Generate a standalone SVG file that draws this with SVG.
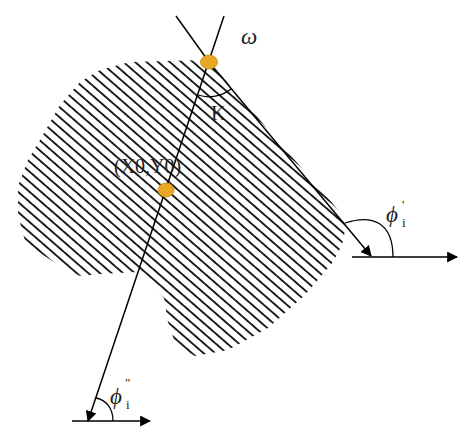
<svg xmlns="http://www.w3.org/2000/svg" width="474" height="443" viewBox="0 0 474 443">
<style>
.ln{stroke:#000;stroke-width:1.5;fill:none}
.arc{stroke:#000;stroke-width:1.3;fill:none}
.dot{fill:#E8A825;stroke:#C88A10;stroke-width:0.8}
.lbl{font-family:"Liberation Serif",serif;font-size:20px;fill:#222}
.it{font-family:"Liberation Serif",serif;font-style:italic;font-size:23px;fill:#222}
.sub{font-family:"Liberation Serif",serif;font-size:13px;fill:#222}
</style>
<defs>
<pattern id="hatch" patternUnits="userSpaceOnUse" width="7.6" height="7.6" patternTransform="rotate(41)">
<line x1="0" y1="3.8" x2="7.6" y2="3.8" stroke="#000" stroke-width="1.7"/>
</pattern>
<marker id="ah" viewBox="0 0 10 10" refX="9" refY="5" markerWidth="11" markerHeight="11" markerUnits="userSpaceOnUse" orient="auto">
<path d="M0,0 L10,5 L0,10 Z" fill="#000"/>
</marker>
</defs>
<g id="region">
<path d="M130,62 L205,60 L213,66 L340,212 L346,226 L342,245 L333,262 L305,295 L268,328 L228,350 L195,356 L176,346 L168,322 L164,298 L150,282 L138,272 L100,274 L80,276 L60,266 L40,253 L25,241 L18,215 L18,186 L28,160 L40,140 L60,105 L80,82 L100,70 Z" fill="url(#hatch)"/>
</g>
<g id="connectors">
<line class="ln" x1="176" y1="16" x2="209" y2="62"/>
<line class="ln" x1="209" y1="62" x2="371" y2="256" marker-end="url(#ah)"/>
<line class="ln" x1="224" y1="16" x2="88" y2="421" marker-end="url(#ah)"/>
<line class="ln" x1="352" y1="257" x2="457" y2="257" marker-end="url(#ah)"/>
<line class="ln" x1="72" y1="421" x2="150" y2="421" marker-end="url(#ah)"/>
<path class="arc" d="M198,95 A35,35 0 0 0 231,89"/>
<path class="arc" d="M345,223 C372,214 393,222 393,257"/>
<path class="arc" d="M96,398 C106,400 113,408 113,421"/>
</g>
<g id="node-top"><ellipse class="dot" cx="209" cy="62" rx="8.5" ry="7"/></g>
<g id="node-center"><ellipse class="dot" cx="166" cy="190" rx="8" ry="7"/></g>
<g id="labels">
<text class="it" x="386" y="222">ϕ</text>
<text class="sub" x="402" y="209">'</text>
<text class="sub" x="402" y="227">i</text>
<text class="it" x="241" y="44">ω</text>
<text class="lbl" x="211" y="120">K</text>
<text class="lbl" x="114" y="173">(X0,Y0)</text>
<text class="it" x="110" y="404">ϕ</text>
<text class="sub" x="125" y="387">"</text>
<text class="sub" x="126" y="409">i</text>
</g>
</svg>
